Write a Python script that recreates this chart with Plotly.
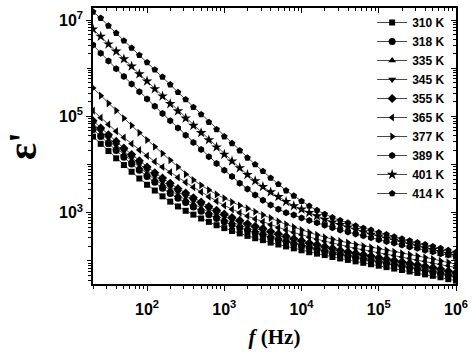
import plotly.graph_objects as go

# log10 of frequency (Hz)
log_f = [1.3, 1.4, 1.5, 1.6, 1.7, 1.8, 1.9, 2.0, 2.1, 2.2, 2.3, 2.4, 2.5, 2.6, 2.7, 2.8,
         2.9, 3.0, 3.1, 3.2, 3.3, 3.4, 3.5, 3.6, 3.7, 3.8, 3.9, 4.0, 4.1, 4.2, 4.3, 4.4,
         4.5, 4.6, 4.7, 4.8, 4.9, 5.0, 5.1, 5.2, 5.3, 5.4, 5.5, 5.6, 5.7, 5.8, 5.9, 6.0]

# log10 of epsilon', one list per temperature
log_eps_310 = [4.58, 4.43, 4.28, 4.13, 3.99, 3.85, 3.71, 3.58, 3.46, 3.34, 3.23, 3.13, 3.04, 2.96, 2.88, 2.81,
               2.74, 2.68, 2.62, 2.57, 2.52, 2.47, 2.43, 2.38, 2.34, 2.30, 2.26, 2.22, 2.18, 2.15, 2.12, 2.08,
               2.05, 2.02, 1.99, 1.96, 1.93, 1.90, 1.87, 1.84, 1.81, 1.78, 1.75, 1.72, 1.69, 1.66, 1.62, 1.59]
log_eps_318 = [4.73, 4.58, 4.43, 4.29, 4.15, 4.01, 3.88, 3.75, 3.63, 3.51, 3.40, 3.30, 3.21, 3.12, 3.03, 2.96,
               2.88, 2.81, 2.75, 2.69, 2.63, 2.58, 2.54, 2.48, 2.44, 2.40, 2.35, 2.31, 2.27, 2.23, 2.20, 2.16,
               2.13, 2.10, 2.07, 2.04, 2.01, 1.98, 1.95, 1.92, 1.89, 1.86, 1.83, 1.80, 1.77, 1.74, 1.70, 1.67]
log_eps_335 = [4.79, 4.64, 4.49, 4.35, 4.21, 4.08, 3.94, 3.81, 3.69, 3.58, 3.47, 3.36, 3.27, 3.18, 3.09, 3.01,
               2.94, 2.86, 2.80, 2.74, 2.68, 2.63, 2.58, 2.52, 2.48, 2.43, 2.39, 2.34, 2.30, 2.27, 2.23, 2.19,
               2.16, 2.13, 2.10, 2.07, 2.04, 2.01, 1.98, 1.95, 1.92, 1.89, 1.86, 1.83, 1.80, 1.77, 1.73, 1.70]
log_eps_345 = [4.85, 4.70, 4.56, 4.41, 4.28, 4.14, 4.01, 3.88, 3.76, 3.65, 3.54, 3.43, 3.34, 3.25, 3.16, 3.07,
               2.99, 2.92, 2.85, 2.79, 2.73, 2.67, 2.62, 2.57, 2.52, 2.47, 2.43, 2.38, 2.34, 2.30, 2.27, 2.23,
               2.19, 2.16, 2.13, 2.10, 2.07, 2.04, 2.01, 1.98, 1.95, 1.92, 1.89, 1.86, 1.83, 1.80, 1.76, 1.73]
log_eps_355 = [4.91, 4.76, 4.62, 4.48, 4.34, 4.21, 4.08, 3.95, 3.83, 3.72, 3.61, 3.50, 3.41, 3.31, 3.22, 3.13,
               3.05, 2.97, 2.90, 2.84, 2.77, 2.72, 2.67, 2.61, 2.56, 2.51, 2.46, 2.42, 2.37, 2.34, 2.30, 2.26,
               2.22, 2.19, 2.16, 2.13, 2.10, 2.07, 2.04, 2.01, 1.98, 1.95, 1.92, 1.89, 1.86, 1.83, 1.79, 1.76]
log_eps_365 = [5.12, 4.97, 4.83, 4.69, 4.56, 4.43, 4.30, 4.18, 4.06, 3.95, 3.84, 3.73, 3.63, 3.53, 3.43, 3.33,
               3.24, 3.15, 3.07, 3.00, 2.93, 2.87, 2.81, 2.75, 2.69, 2.64, 2.59, 2.54, 2.49, 2.45, 2.41, 2.37,
               2.33, 2.30, 2.26, 2.23, 2.20, 2.17, 2.14, 2.11, 2.08, 2.05, 2.02, 1.99, 1.96, 1.93, 1.90, 1.86]
log_eps_377 = [5.59, 5.43, 5.27, 5.12, 4.96, 4.81, 4.66, 4.51, 4.37, 4.23, 4.09, 3.95, 3.80, 3.68, 3.57, 3.47,
               3.38, 3.30, 3.22, 3.15, 3.09, 3.02, 2.95, 2.89, 2.82, 2.76, 2.70, 2.64, 2.59, 2.54, 2.49, 2.45,
               2.41, 2.38, 2.34, 2.31, 2.28, 2.25, 2.22, 2.19, 2.16, 2.13, 2.10, 2.07, 2.04, 2.00, 1.97, 1.93]
log_eps_389 = [6.48, 6.31, 6.15, 5.99, 5.83, 5.67, 5.51, 5.36, 5.21, 5.06, 4.91, 4.76, 4.61, 4.46, 4.31, 4.16,
               4.02, 3.88, 3.75, 3.61, 3.49, 3.37, 3.26, 3.16, 3.07, 3.00, 2.95, 2.89, 2.84, 2.79, 2.74, 2.69,
               2.64, 2.60, 2.56, 2.52, 2.48, 2.44, 2.40, 2.37, 2.33, 2.29, 2.26, 2.22, 2.19, 2.15, 2.12, 2.08]
log_eps_401 = [6.81, 6.66, 6.50, 6.35, 6.19, 6.04, 5.88, 5.73, 5.57, 5.42, 5.26, 5.11, 4.96, 4.81, 4.66, 4.51,
               4.36, 4.21, 4.07, 3.93, 3.79, 3.66, 3.54, 3.43, 3.33, 3.23, 3.14, 3.07, 3.00, 2.93, 2.86, 2.80,
               2.75, 2.70, 2.65, 2.60, 2.55, 2.51, 2.47, 2.43, 2.39, 2.35, 2.31, 2.27, 2.23, 2.19, 2.15, 2.11]
log_eps_414 = [7.17, 7.04, 6.88, 6.73, 6.57, 6.42, 6.27, 6.12, 5.97, 5.82, 5.66, 5.50, 5.35, 5.19, 5.04, 4.88,
               4.73, 4.58, 4.44, 4.29, 4.14, 4.00, 3.86, 3.72, 3.59, 3.46, 3.35, 3.24, 3.14, 3.05, 2.97, 2.90,
               2.84, 2.79, 2.73, 2.68, 2.64, 2.59, 2.55, 2.50, 2.46, 2.42, 2.38, 2.34, 2.30, 2.26, 2.22, 2.18]

labels = ["310 K", "318 K", "335 K", "345 K", "355 K", "365 K", "377 K", "389 K", "401 K", "414 K"]
series = [log_eps_310, log_eps_318, log_eps_335, log_eps_345, log_eps_355,
          log_eps_365, log_eps_377, log_eps_389, log_eps_401, log_eps_414]
symbols = ["square", "circle", "triangle-up", "triangle-down", "diamond",
           "triangle-left", "triangle-right", "hexagon", "star", "pentagon"]
sizes = [6, 7, 7, 7, 7, 7, 7, 7, 8, 7]

x_tick_exp = [2, 3, 4, 5, 6]
y_label_exp = [3, 5, 7]
y_plain_exp = [2, 4, 6]

freq = [10 ** v for v in log_f]

fig = go.Figure()
for lab, ys, sym, sz in zip(labels, series, symbols, sizes):
    fig.add_trace(go.Scatter(
        x=freq, y=[10 ** v for v in ys], name=lab, mode="lines+markers",
        line=dict(color="#333333", width=0.9),
        marker=dict(symbol=sym, size=sz, color="black"),
    ))
# helper traces so the extra tick-only axes are drawn
fig.add_trace(go.Scatter(x=[None], y=[None], xaxis="x2", yaxis="y2",
                         showlegend=False, hoverinfo="skip"))
fig.add_trace(go.Scatter(x=[None], y=[None], xaxis="x", yaxis="y3",
                         showlegend=False, hoverinfo="skip"))

x_range = [1.3, 6.0]
y_range = [1.52, 7.25]
minor_x = [m * 10 ** e for e in range(1, 7) for m in range(2, 10)]
minor_y = [m * 10 ** e for e in range(1, 8) for m in range(2, 10)]

tick_font = dict(family="Liberation Sans, Arial", size=16, color="black", weight="bold")


def minor(direction, vals):
    return dict(tickmode="array", tickvals=vals, ticks=direction, ticklen=3,
                tickwidth=1, tickcolor="black", showgrid=False)


fig.update_layout(
    width=474, height=355,
    margin=dict(l=93, r=18, t=8, b=71),
    paper_bgcolor="white", plot_bgcolor="white",
    showlegend=True,
    legend=dict(x=0.769, y=1.0, xanchor="left", yanchor="top",
                bgcolor="rgba(0,0,0,0)", itemwidth=30,
                font=dict(family="Liberation Sans, Arial", size=12, color="black", weight="bold")),
    xaxis=dict(
        type="log", range=x_range, showgrid=False, zeroline=False, automargin=False,
        showline=True, linecolor="black", linewidth=1.5,
        ticks="outside", ticklen=5, tickwidth=1.2, tickcolor="black",
        tickmode="array", tickvals=[10 ** e for e in x_tick_exp],
        ticktext=["10<sup>%d</sup>" % e for e in x_tick_exp],
        tickfont=tick_font, ticklabelstandoff=5,
        minor=minor("outside", minor_x),
        title=dict(text="<i>f</i> (Hz)", standoff=12,
                   font=dict(family="Liberation Serif, Times New Roman", size=21,
                             color="black", weight="bold")),
    ),
    yaxis=dict(
        type="log", range=y_range, showgrid=False, zeroline=False, automargin=False,
        showline=True, linecolor="black", linewidth=1.5,
        ticks="outside", ticklen=5, tickwidth=1.2, tickcolor="black",
        tickmode="array", tickvals=[10 ** e for e in y_label_exp],
        ticktext=["10<sup>%d</sup>" % e for e in y_label_exp],
        tickfont=tick_font,
        minor=minor("outside", minor_y),
        title=dict(text="ε'", standoff=22,
                   font=dict(family="Liberation Serif, Times New Roman", size=40,
                             color="black", weight="bold")),
    ),
    yaxis3=dict(
        type="log", range=y_range, overlaying="y", side="left", anchor="x",
        showgrid=False, zeroline=False, automargin=False, showline=False,
        ticks="outside", ticklen=5, tickwidth=1.2, tickcolor="black",
        tickmode="array", tickvals=[10 ** e for e in y_plain_exp], showticklabels=False,
    ),
    xaxis2=dict(
        type="log", range=x_range, overlaying="x", side="top", anchor="y2",
        showgrid=False, zeroline=False, automargin=False,
        showline=True, linecolor="black", linewidth=1.5,
        ticks="inside", ticklen=5, tickwidth=1.2, tickcolor="black",
        tickmode="array", tickvals=[10 ** e for e in x_tick_exp], showticklabels=False,
        minor=minor("inside", minor_x),
    ),
    yaxis2=dict(
        type="log", range=y_range, overlaying="y", side="right", anchor="x2",
        showgrid=False, zeroline=False, automargin=False,
        showline=True, linecolor="black", linewidth=1.5,
        ticks="inside", ticklen=5, tickwidth=1.2, tickcolor="black",
        tickmode="array", tickvals=[10 ** e for e in y_label_exp + y_plain_exp],
        showticklabels=False,
        minor=minor("inside", minor_y),
    ),
)

fig.write_html("out.html", config={"displayModeBar": False},
               post_script="document.body.style.margin='0px';")
